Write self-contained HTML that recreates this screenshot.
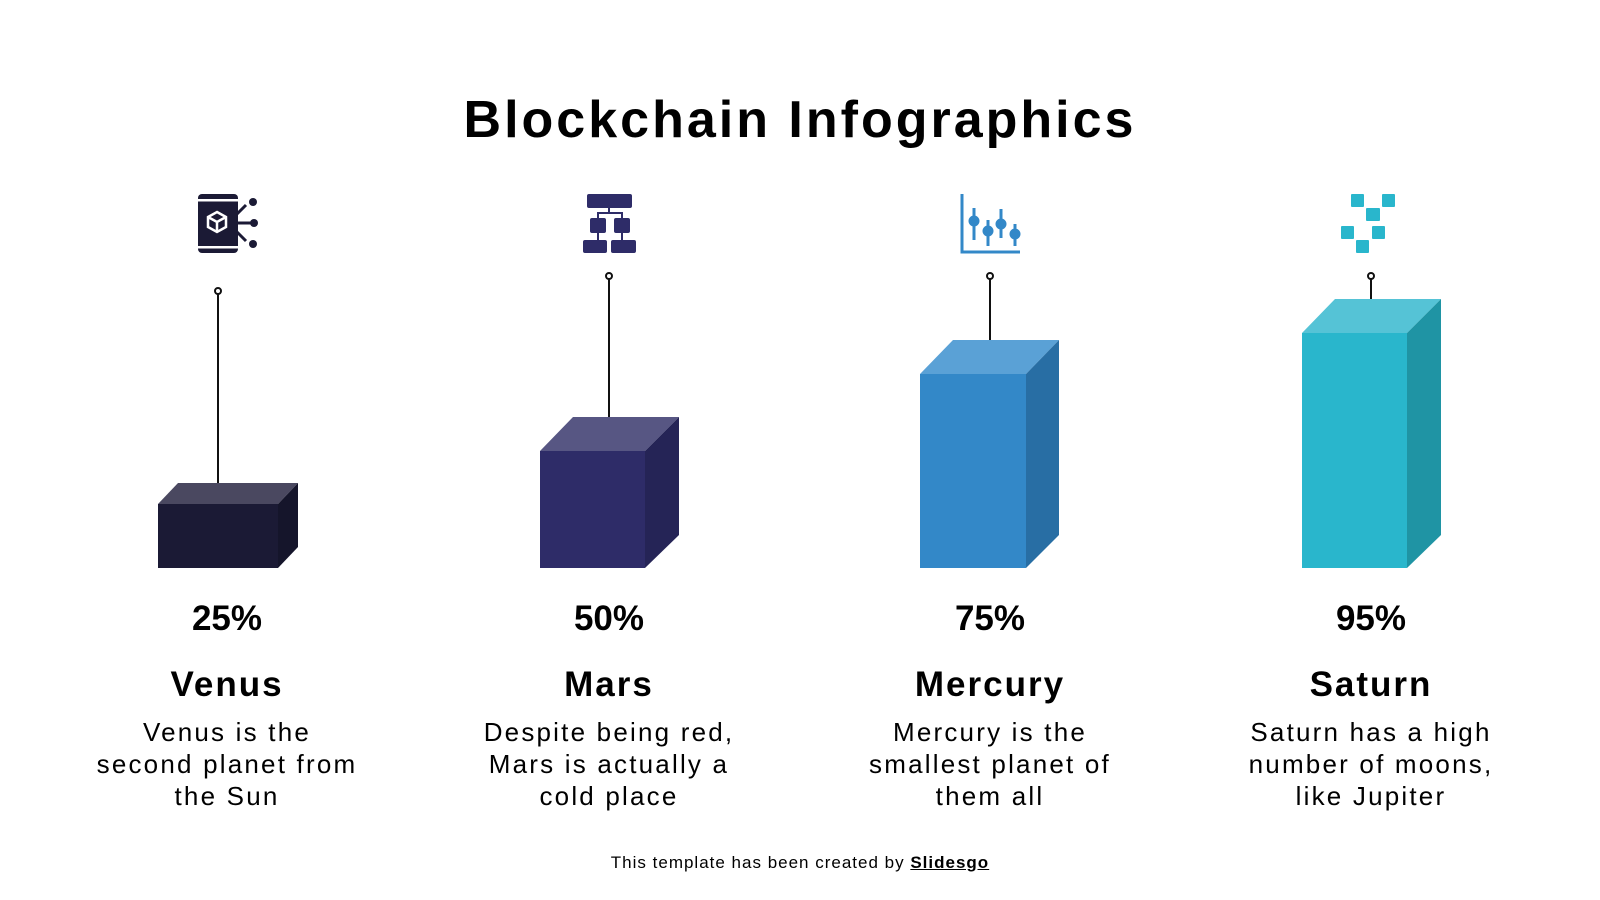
<!DOCTYPE html>
<html><head><meta charset="utf-8"><style>
html,body{margin:0;padding:0;background:#fff;}
body{width:1600px;height:900px;position:relative;overflow:hidden;font-family:"Liberation Sans",sans-serif;color:#000;}
.t{position:absolute;text-align:center;white-space:nowrap;}
.title{left:0;width:1600px;top:88px;font-size:52px;font-weight:bold;line-height:64px;letter-spacing:3px;}
.pct{font-size:35px;font-weight:bold;line-height:40px;top:599px;width:300px;}
.name{font-size:35px;font-weight:bold;line-height:40px;top:665px;width:300px;letter-spacing:2px;}
.desc{font-size:26px;line-height:32px;top:716px;width:360px;letter-spacing:2.2px;}
.foot{left:0;width:1600px;top:852px;font-size:17px;line-height:22px;letter-spacing:1px;}
</style></head><body>
<div class="t title">Blockchain Infographics</div>
<svg width="1600" height="900" style="position:absolute;left:0;top:0">
<g stroke="#111" stroke-width="2" fill="#fff">
<line x1="218" y1="294" x2="218" y2="483"/><circle cx="218" cy="291" r="3"/>
<line x1="609" y1="279" x2="609" y2="417"/><circle cx="609" cy="276" r="3"/>
<line x1="990" y1="279" x2="990" y2="340"/><circle cx="990" cy="276" r="3"/>
<line x1="1371" y1="279" x2="1371" y2="299"/><circle cx="1371" cy="276" r="3"/>
</g>
<polygon points="158,504 178,483 298,483 278,504" fill="#4a4860"/>
<polygon points="278,504 298,483 298,547 278,568" fill="#15152b"/>
<rect x="158" y="504" width="120" height="64" fill="#1b1a35"/>
<polygon points="540,451 573,417 679,417 645,451" fill="#575683"/>
<polygon points="645,451 679,417 679,535 645,568" fill="#252456"/>
<rect x="540" y="451" width="105" height="117" fill="#2e2c68"/>
<polygon points="920,374 953,340 1059,340 1026,374" fill="#5aa1d6"/>
<polygon points="1026,374 1059,340 1059,535 1026,568" fill="#286ea4"/>
<rect x="920" y="374" width="106" height="194" fill="#3388c8"/>
<polygon points="1302,333 1335,299 1441,299 1407,333" fill="#55c3d6"/>
<polygon points="1407,333 1441,299 1441,535 1407,568" fill="#1f94a4"/>
<rect x="1302" y="333" width="105" height="235" fill="#29b6cc"/>
<g fill="#1b1a35">
<rect x="198" y="194" width="40" height="59" rx="4"/>
<circle cx="253" cy="202" r="4"/><circle cx="254" cy="223" r="4"/><circle cx="253" cy="244" r="4"/>
<path d="M236 215 L246 205 M236 223 L252 223 M236 231 L246 241" stroke="#1b1a35" stroke-width="3" fill="none"/>
</g>
<rect x="198" y="199" width="40" height="2.5" fill="#fff"/><rect x="198" y="246" width="40" height="2.5" fill="#fff"/>
<path d="M217 212 L226 217 L226 227 L217 232 L208 227 L208 217 Z M208 217 L217 222 L226 217 M217 222 L217 232" stroke="#fff" stroke-width="2.5" fill="none"/>
<g fill="#2e2c68">
<rect x="587" y="194" width="45" height="14" rx="2"/>
<rect x="590" y="218" width="16" height="15" rx="2"/><rect x="614" y="218" width="16" height="15" rx="2"/>
<rect x="583" y="240" width="24" height="13" rx="2"/><rect x="611" y="240" width="25" height="13" rx="2"/>
</g>
<path d="M609 208 V213 M598 218 V213 H622 V218 M598 233 V240 M622 233 V240" stroke="#2e2c68" stroke-width="2" fill="none"/>
<g stroke="#3388c8" stroke-width="3" fill="#3388c8">
<path d="M962 194 V252 H1020" fill="none"/>
<line x1="974" y1="208" x2="974" y2="240"/><circle cx="974" cy="221" r="4"/>
<line x1="988" y1="220" x2="988" y2="246"/><circle cx="988" cy="231" r="4"/>
<line x1="1001" y1="209" x2="1001" y2="238"/><circle cx="1001" cy="224" r="4"/>
<line x1="1015" y1="224" x2="1015" y2="246"/><circle cx="1015" cy="234" r="4"/>
</g>
<g fill="#29b6cc">
<rect x="1351" y="194" width="13" height="13" rx="1"/><rect x="1382" y="194" width="13" height="13" rx="1"/>
<rect x="1366" y="208" width="14" height="13" rx="1"/>
<rect x="1341" y="226" width="13" height="13" rx="1"/><rect x="1372" y="226" width="13" height="13" rx="1"/>
<rect x="1356" y="240" width="13" height="13" rx="1"/>
</g>
</svg>
<div class="t pct" style="left:77px">25%</div>
<div class="t pct" style="left:459px">50%</div>
<div class="t pct" style="left:840px">75%</div>
<div class="t pct" style="left:1221px">95%</div>
<div class="t name" style="left:77px">Venus</div>
<div class="t name" style="left:459px">Mars</div>
<div class="t name" style="left:840px">Mercury</div>
<div class="t name" style="left:1221px">Saturn</div>
<div class="t desc" style="left:47px">Venus is the<br>second planet from<br>the Sun</div>
<div class="t desc" style="left:429px">Despite being red,<br>Mars is actually a<br>cold place</div>
<div class="t desc" style="left:810px">Mercury is the<br>smallest planet of<br>them all</div>
<div class="t desc" style="left:1191px">Saturn has a high<br>number of moons,<br>like Jupiter</div>
<div class="t foot">This template has been created by <b><u>Slidesgo</u></b></div>
</body></html>
